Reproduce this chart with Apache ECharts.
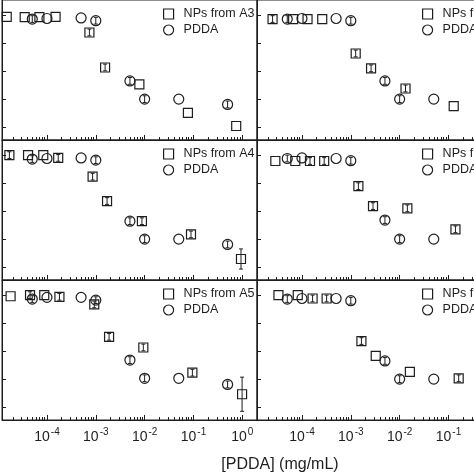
<!DOCTYPE html>
<html>
<head>
<meta charset="utf-8">
<script src="https://cdn.jsdelivr.net/npm/echarts@6/dist/echarts.min.js"></script>
<style>
  html, body { margin: 0; padding: 0; background: #fff; }
  #chart { width: 474px; height: 474px; }
</style>
</head>
<body>
<div id="chart"></div>
<script>
// 六个面板: 左列 A3 / A4 / A5, 右列只露出一部分
// x 为 PDDA 浓度 (mg/mL), y 轴刻度值在原图里被裁掉了, 这里用相对值
const panelNames = ['NPs from A3', 'NPs from B3', 'NPs from A4', 'NPs from B4', 'NPs from A5', 'NPs from B5']

// 方块: NPs
const npX_A3 = [1.5e-5, 3.5e-5, 7e-5, 1.5e-4, 7.4e-4, 1.55e-3, 7.8e-3, 7.7e-2, 0.75]
const npY_A3 = [39.4, 39.3, 39.3, 39.4, 33.8, 21.3, 15.3, 5.1, 0.4]
const npE_A3 = [0, 0, 0, 0, 1.2, 1.2, 0, 0, 0]
const npX_B3 = [2.5e-5, 6.6e-5, 1.3e-4, 2.6e-4, 1.26e-3, 2.6e-3, 1.32e-2, 0.128]
const npY_B3 = [38.6, 38.6, 38.6, 38.6, 26.3, 21.0, 13.8, 7.5]
const npE_B3 = [1.2, 0, 0, 0, 1.2, 1.2, 1.2, 0]
const npX_A4 = [1.7e-5, 4.1e-5, 8.4e-5, 1.7e-4, 8.6e-4, 1.7e-3, 8.8e-3, 8.9e-2, 0.94]
const npY_A4 = [40.0, 40.0, 40.0, 39.0, 32.3, 23.6, 16.4, 11.7, 2.9]
const npE_A4 = [1.2, 0, 0, 1.2, 1.2, 1.2, 1.2, 1.2, 3.6]
const npX_B4 = [2.85e-5, 7.3e-5, 1.46e-4, 2.85e-4, 1.43e-3, 2.85e-3, 1.44e-2, 0.139]
const npY_B4 = [37.9, 37.9, 37.9, 37.9, 28.9, 21.8, 21.0, 13.5]
const npE_B4 = [0, 0, 1.2, 1.2, 1.2, 1.2, 1.2, 1.2]
const npX_A5 = [1.8e-5, 4.5e-5, 8.8e-5, 1.8e-4, 9.3e-4, 1.87e-3, 9.4e-3, 9.5e-2, 0.99]
const npY_A5 = [39.6, 40.0, 40.0, 39.4, 36.7, 25.1, 21.3, 12.3, 4.6]
const npE_A5 = [0, 1.2, 0, 1.2, 1.2, 1.2, 1.2, 1.2, 6.1]
const npX_B5 = [3.3e-5, 8.2e-5, 1.65e-4, 3.2e-4, 1.65e-3, 3.24e-3, 1.62e-2, 0.162]
const npY_B5 = [40.0, 40.0, 38.8, 38.8, 23.6, 18.3, 12.6, 10.3]
const npE_B5 = [0, 0, 1.2, 1.2, 1.2, 0, 0, 1.2]

// 圆圈: PDDA
const pdX_left = [5e-5, 1e-4, 5e-4, 1e-3, 5e-3, 1e-2, 5e-2, 0.5]
const pdX_right = [5e-5, 1e-4, 5e-4, 1e-3, 5e-3, 1e-2, 5e-2]
const pdY_A3 = [38.6, 38.8, 39.0, 38.0, 16.5, 10.0, 10.0, 8.1]
const pdE_A3 = [1.2, 0, 0, 1.2, 1.2, 1.2, 0, 1.2]
const pdY_B3 = [38.6, 38.8, 38.8, 38.0, 16.5, 10.0, 10.0]
const pdE_B3 = [1.2, 0, 0, 1.2, 1.2, 1.2, 0]
const pdY_A4 = [38.6, 38.8, 39.0, 38.2, 16.4, 10.0, 10.0, 8.1]
const pdE_A4 = [1.2, 0, 0, 1.2, 1.2, 1.2, 0, 1.2]
const pdY_B4 = [38.8, 39.0, 38.8, 38.0, 16.8, 10.0, 10.0]
const pdE_B4 = [1.2, 0, 0, 1.2, 1.2, 1.2, 0]
const pdY_A5 = [38.6, 39.2, 39.2, 38.2, 16.8, 10.3, 10.3, 8.1]
const pdE_A5 = [1.2, 0, 0, 1.2, 1.2, 1.2, 0, 1.2]
const pdY_B5 = [38.6, 38.8, 38.8, 38.0, 16.5, 10.0, 10.0]
const pdE_B5 = [1.2, 0, 0, 1.2, 1.2, 1.2, 0]

// 坐标轴刻度
const xMajorTicks = [1e-4, 1e-3, 1e-2, 1e-1, 1]
const xMinorTicks = [2e-5, 3e-5, 4e-5, 5e-5, 6e-5, 7e-5, 8e-5, 9e-5,
  2e-4, 3e-4, 4e-4, 5e-4, 6e-4, 7e-4, 8e-4, 9e-4,
  2e-3, 3e-3, 4e-3, 5e-3, 6e-3, 7e-3, 8e-3, 9e-3,
  2e-2, 3e-2, 4e-2, 5e-2, 6e-2, 7e-2, 8e-2, 9e-2,
  0.2, 0.3, 0.4, 0.5, 0.6, 0.7, 0.8, 0.9, 2]
const yTicks = [0, 10, 20, 30, 40]

const panels = [
  { name: panelNames[0], npX: npX_A3, npY: npY_A3, npE: npE_A3, pdX: pdX_left, pdY: pdY_A3, pdE: pdE_A3 },
  { name: panelNames[1], npX: npX_B3, npY: npY_B3, npE: npE_B3, pdX: pdX_right, pdY: pdY_B3, pdE: pdE_B3 },
  { name: panelNames[2], npX: npX_A4, npY: npY_A4, npE: npE_A4, pdX: pdX_left, pdY: pdY_A4, pdE: pdE_A4 },
  { name: panelNames[3], npX: npX_B4, npY: npY_B4, npE: npE_B4, pdX: pdX_right, pdY: pdY_B4, pdE: pdE_B4 },
  { name: panelNames[4], npX: npX_A5, npY: npY_A5, npE: npE_A5, pdX: pdX_left, pdY: pdY_A5, pdE: pdE_A5 },
  { name: panelNames[5], npX: npX_B5, npY: npY_B5, npE: npE_B5, pdX: pdX_right, pdY: pdY_B5, pdE: pdE_B5 }
]

const ink = '#1e1e1e'
const font = 'Liberation Sans, Arial, sans-serif'
const xMin = 1.2e-5
const xMax = 2

// 误差棒
function errorBars(xs, ys, es, gi) {
  return {
    type: 'custom',
    xAxisIndex: gi * 2,
    yAxisIndex: gi,
    silent: true,
    z: 4,
    encode: { x: 0, y: 1 },
    data: xs.map((x, i) => [x, ys[i], es[i]]).filter((d) => d[2] > 0),
    renderItem(params, api) {
      const x = api.value(0)
      const y = api.value(1)
      const e = api.value(2)
      const top = api.coord([x, y + e])
      const bot = api.coord([x, y - e])
      const w = 2
      const style = { stroke: ink, lineWidth: 1 }
      return {
        type: 'group',
        children: [
          { type: 'line', shape: { x1: top[0], y1: top[1], x2: bot[0], y2: bot[1] }, style },
          { type: 'line', shape: { x1: top[0] - w, y1: top[1], x2: top[0] + w, y2: top[1] }, style },
          { type: 'line', shape: { x1: bot[0] - w, y1: bot[1], x2: bot[0] + w, y2: bot[1] }, style }
        ]
      }
    }
  }
}

const grids = []
const xAxes = []
const yAxes = []
const legends = []
const series = []

panels.forEach((p, gi) => {
  const col = gi % 2
  const row = Math.floor(gi / 2)
  const bottomRow = row === 2
  grids.push({
    left: col === 0 ? 2 : 257,
    width: 255,
    top: row * 140,
    height: 140,
    outerBoundsMode: 'none',
    containLabel: false,
    show: true,
    borderColor: ink,
    borderWidth: 1,
    backgroundColor: 'transparent'
  })
  // 主刻度 + 标签
  xAxes.push({
    gridIndex: gi,
    type: 'log',
    logBase: 10,
    min: xMin,
    max: xMax,
    position: 'bottom',
    axisLine: { show: true, onZero: false, lineStyle: { color: ink } },
    axisTick: { show: true, inside: true, length: 5, customValues: xMajorTicks, lineStyle: { color: ink } },
    axisLabel: {
      show: bottomRow,
      customValues: xMajorTicks,
      margin: 7,
      formatter: (v) => '{a|10}{b|' + Math.round(Math.log10(v)) + '}',
      rich: {
        a: { fontSize: 14, color: ink, fontFamily: font },
        b: { fontSize: 10, color: ink, fontFamily: font, padding: [0, 0, 10, 1] }
      }
    },
    splitLine: { show: false }
  })
  // 次刻度
  xAxes.push({
    gridIndex: gi,
    type: 'log',
    logBase: 10,
    min: xMin,
    max: xMax,
    position: 'bottom',
    axisLine: { show: false, onZero: false },
    axisTick: { show: true, inside: true, length: 3, customValues: xMinorTicks, lineStyle: { color: ink } },
    axisLabel: { show: false },
    splitLine: { show: false }
  })
  yAxes.push({
    gridIndex: gi,
    type: 'value',
    min: -4.6,
    max: 45.4,
    position: 'left',
    axisLine: { show: true, onZero: false, lineStyle: { color: ink } },
    axisTick: { show: true, inside: true, length: 4, customValues: yTicks, lineStyle: { color: ink } },
    axisLabel: { show: false },
    splitLine: { show: false }
  })
  legends.push({
    orient: 'vertical',
    left: col === 0 ? 158 : 417,
    top: row * 140 + 2,
    itemWidth: 10,
    itemHeight: 10,
    itemGap: 2,
    selectedMode: false,
    textStyle: { fontSize: 12.5, color: ink, fontFamily: font, lineHeight: 14, padding: [0, 0, 0, 5] },
    data: [
      { name: p.name, icon: 'rect', itemStyle: { color: 'transparent', borderColor: ink, borderWidth: 1.2 } },
      { name: 'PDDA', icon: 'circle', itemStyle: { color: 'transparent', borderColor: ink, borderWidth: 1.2 } }
    ]
  })
  series.push({
    name: p.name,
    type: 'scatter',
    xAxisIndex: gi * 2,
    yAxisIndex: gi,
    symbol: 'rect',
    symbolSize: 9,
    itemStyle: { color: 'transparent', borderColor: ink, borderWidth: 1.2, opacity: 1 },
    data: p.npX.map((x, i) => [x, p.npY[i]])
  })
  series.push({
    name: 'PDDA',
    type: 'scatter',
    xAxisIndex: gi * 2,
    yAxisIndex: gi,
    symbol: 'circle',
    symbolSize: 10,
    itemStyle: { color: 'transparent', borderColor: ink, borderWidth: 1.2, opacity: 1 },
    data: p.pdX.map((x, i) => [x, p.pdY[i]])
  })
  series.push(errorBars(p.npX, p.npY, p.npE, gi))
  series.push(errorBars(p.pdX, p.pdY, p.pdE, gi))
})

const chart = echarts.init(document.getElementById('chart'), null, { renderer: 'canvas' })
chart.setOption({
  animation: false,
  backgroundColor: '#fff',
  title: {
    text: '[PDDA] (mg/mL)',
    left: 275,
    top: 452,
    textAlign: 'center',
    textStyle: { fontSize: 16, fontWeight: 'normal', color: ink, fontFamily: font }
  },
  grid: grids,
  xAxis: xAxes,
  yAxis: yAxes,
  legend: legends,
  series: series
})
</script>
</body>
</html>
